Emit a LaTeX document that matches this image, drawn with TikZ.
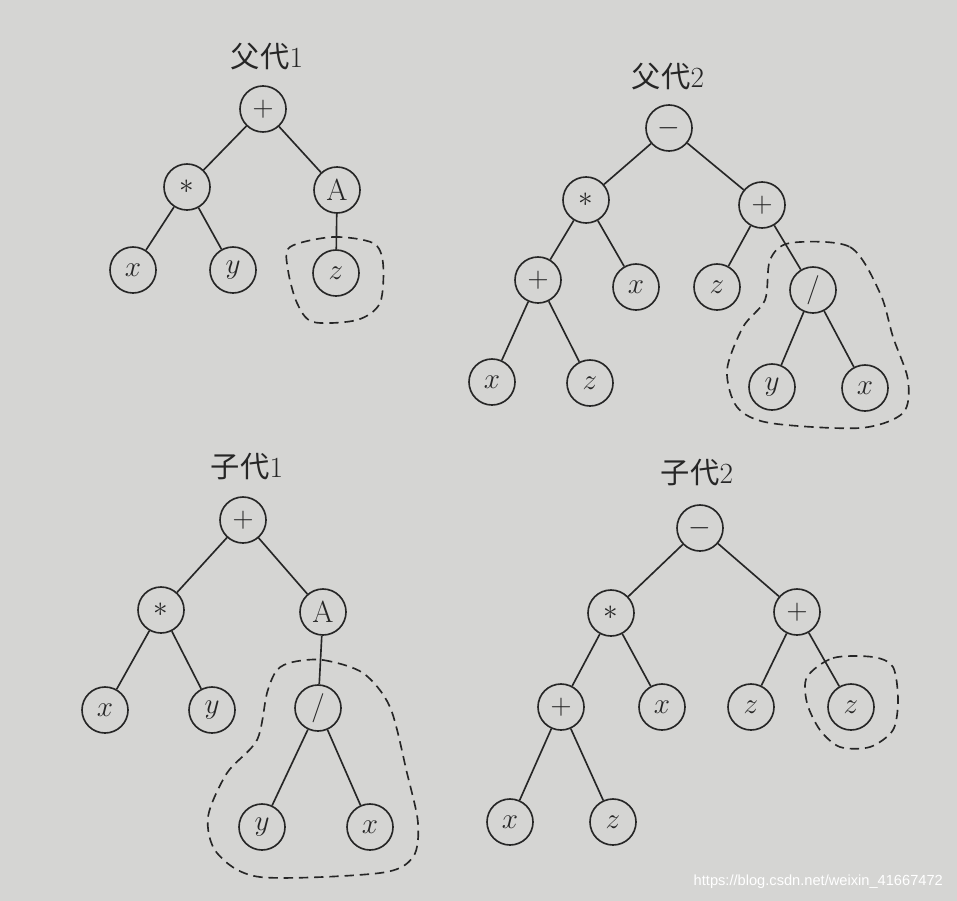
\documentclass[tikz,border=0pt]{standalone}
\usepackage{fontspec}
\newfontfamily\cjk{Noto Sans CJK SC}
\newfontfamily\urlfont{Liberation Sans}
\definecolor{paper}{HTML}{D5D5D3}
\definecolor{ink}{HTML}{262626}
\begin{document}
\begin{tikzpicture}[x=0.03cm, y=-0.03cm,
  op/.style={circle, draw=ink, line width=1.4pt, minimum size=1.38cm, inner sep=0pt, text=ink, font=\fontsize{26}{28}\selectfont},
  edge/.style={draw=ink, line width=1.4pt},
  cut/.style={draw=ink, line width=1.4pt, dash pattern=on 8pt off 5pt},
  title/.style={text=ink, font=\fontsize{25}{28}\selectfont}]
% Page
\fill[paper] (0,0) rectangle (957,901);

% Parent 1
\node[title] (t1) at (267,57) {{\cjk 父代}1};
\node[op] (p1r) at (263,109) {$+$};
\node[op] (p1a) at (187,187) {$*$};
\node[op] (p1b) at (337,190) {A};
\node[op] (p1c) at (133,270) {$x$};
\node[op] (p1d) at (233,270) {$y$};
\node[op] (p1e) at (336,273) {$z$};
\draw[edge] (p1r) -- (p1a);
\draw[edge] (p1r) -- (p1b);
\draw[edge] (p1a) -- (p1c);
\draw[edge] (p1a) -- (p1d);
\draw[edge] (p1b) -- (p1e);
\draw[cut] plot[smooth cycle] coordinates {(290,247) (333,237) (373,243) (383,263) (380,303) (357,320) (313,322) (297,303) (288,270)};

% Parent 2
\node[title] (t2) at (668,77) {{\cjk 父代}2};
\node[op] (p2r) at (669,128) {$-$};
\node[op] (p2a) at (586,200) {$*$};
\node[op] (p2b) at (762,205) {$+$};
\node[op] (p2c) at (538,280) {$+$};
\node[op] (p2d) at (636,287) {$x$};
\node[op] (p2e) at (717,287) {$z$};
\node[op] (p2f) at (813,290) {$/$};
\node[op] (p2g) at (492,382) {$x$};
\node[op] (p2h) at (590,383) {$z$};
\node[op] (p2i) at (772,387) {$y$};
\node[op] (p2j) at (865,388) {$x$};
\draw[edge] (p2r) -- (p2a);
\draw[edge] (p2r) -- (p2b);
\draw[edge] (p2a) -- (p2c);
\draw[edge] (p2a) -- (p2d);
\draw[edge] (p2b) -- (p2e);
\draw[edge] (p2b) -- (p2f);
\draw[edge] (p2c) -- (p2g);
\draw[edge] (p2c) -- (p2h);
\draw[edge] (p2f) -- (p2i);
\draw[edge] (p2f) -- (p2j);
\draw[cut] plot[smooth cycle] coordinates {(790,243) (850,247) (880,293) (893,337) (908,380) (903,413) (860,428) (770,423) (737,407) (727,370) (743,327) (765,300) (770,260)};

% Child 1
\node[title] (t3) at (247,467) {{\cjk 子代}1};
\node[op] (c1r) at (243,520) {$+$};
\node[op] (c1a) at (161,610) {$*$};
\node[op] (c1b) at (323,612) {A};
\node[op] (c1c) at (105,710) {$x$};
\node[op] (c1d) at (212,710) {$y$};
\node[op] (c1e) at (318,708) {$/$};
\node[op] (c1f) at (262,827) {$y$};
\node[op] (c1g) at (370,827) {$x$};
\draw[edge] (c1r) -- (c1a);
\draw[edge] (c1r) -- (c1b);
\draw[edge] (c1a) -- (c1c);
\draw[edge] (c1a) -- (c1d);
\draw[edge] (c1b) -- (c1e);
\draw[edge] (c1e) -- (c1f);
\draw[edge] (c1e) -- (c1g);
\draw[cut] plot[smooth cycle] coordinates {(293,662) (323,660) (363,673) (390,707) (407,773) (418,823) (413,857) (380,873) (260,877) (217,853) (208,817) (227,773) (257,740) (267,693) (277,670)};

% Child 2
\node[title] (t4) at (697,473) {{\cjk 子代}2};
\node[op] (c2r) at (700,528) {$-$};
\node[op] (c2a) at (611,613) {$*$};
\node[op] (c2b) at (797,612) {$+$};
\node[op] (c2c) at (561,707) {$+$};
\node[op] (c2d) at (662,707) {$x$};
\node[op] (c2e) at (751,707) {$z$};
\node[op] (c2f) at (851,707) {$z$};
\node[op] (c2g) at (510,822) {$x$};
\node[op] (c2h) at (613,822) {$z$};
\draw[edge] (c2r) -- (c2a);
\draw[edge] (c2r) -- (c2b);
\draw[edge] (c2a) -- (c2c);
\draw[edge] (c2a) -- (c2d);
\draw[edge] (c2b) -- (c2e);
\draw[edge] (c2b) -- (c2f);
\draw[edge] (c2c) -- (c2g);
\draw[edge] (c2c) -- (c2h);
\draw[cut] plot[smooth cycle] coordinates {(807,677) (833,658) (873,657) (893,667) (898,700) (893,730) (870,747) (840,747) (820,730) (807,703)};

% Watermark
\node[anchor=east, text=white, font=\urlfont\fontsize{12.5}{14}\selectfont] (wm) at (947,882) {https://blog.csdn.net/weixin\_41667472};
\end{tikzpicture}
\end{document}
